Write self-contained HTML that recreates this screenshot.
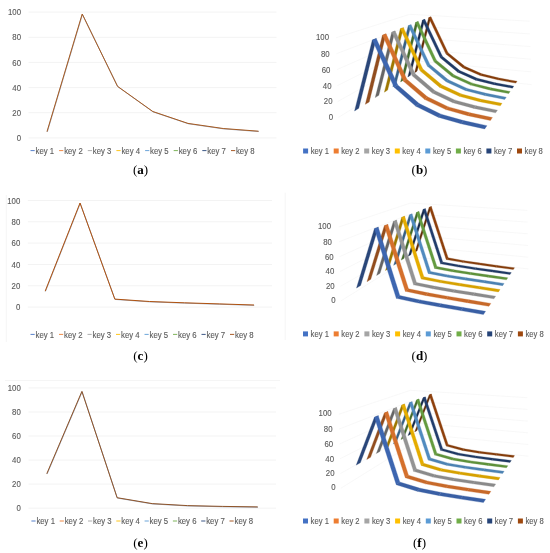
<!DOCTYPE html>
<html><head><meta charset="utf-8"><style>
html,body{margin:0;padding:0;background:#fff;}
svg{display:block;}
</style></head><body>
<svg width="550" height="553" viewBox="0 0 550 553">
<rect width="550" height="553" fill="#fff"/>
<line x1="6.3" y1="195" x2="6.3" y2="342" stroke="#f3f3f3" stroke-width="0.8"/>
<line x1="285.2" y1="192.7" x2="285.2" y2="340" stroke="#f3f3f3" stroke-width="0.8"/>
<line x1="5" y1="380.5" x2="280" y2="380.5" stroke="#f3f3f3" stroke-width="0.8"/>
<line x1="28.5" y1="137.9" x2="276.5" y2="137.9" stroke="#f3f3f3" stroke-width="1"/>
<text transform="translate(21.00,141.00) scale(0.93,1)" font-size="8.4" text-anchor="end" font-family="Liberation Sans, sans-serif" fill="#5a5a5a" stroke="#5a5a5a" stroke-width="0.12">0</text>
<line x1="28.5" y1="112.7" x2="276.5" y2="112.7" stroke="#f3f3f3" stroke-width="1"/>
<text transform="translate(21.00,115.84) scale(0.93,1)" font-size="8.4" text-anchor="end" font-family="Liberation Sans, sans-serif" fill="#5a5a5a" stroke="#5a5a5a" stroke-width="0.12">20</text>
<line x1="28.5" y1="87.6" x2="276.5" y2="87.6" stroke="#f3f3f3" stroke-width="1"/>
<text transform="translate(21.00,90.68) scale(0.93,1)" font-size="8.4" text-anchor="end" font-family="Liberation Sans, sans-serif" fill="#5a5a5a" stroke="#5a5a5a" stroke-width="0.12">40</text>
<line x1="28.5" y1="62.4" x2="276.5" y2="62.4" stroke="#f3f3f3" stroke-width="1"/>
<text transform="translate(21.00,65.52) scale(0.93,1)" font-size="8.4" text-anchor="end" font-family="Liberation Sans, sans-serif" fill="#5a5a5a" stroke="#5a5a5a" stroke-width="0.12">60</text>
<line x1="28.5" y1="37.3" x2="276.5" y2="37.3" stroke="#f3f3f3" stroke-width="1"/>
<text transform="translate(21.00,40.36) scale(0.93,1)" font-size="8.4" text-anchor="end" font-family="Liberation Sans, sans-serif" fill="#5a5a5a" stroke="#5a5a5a" stroke-width="0.12">80</text>
<line x1="28.5" y1="12.1" x2="276.5" y2="12.1" stroke="#f3f3f3" stroke-width="1"/>
<text transform="translate(21.00,15.20) scale(0.93,1)" font-size="8.4" text-anchor="end" font-family="Liberation Sans, sans-serif" fill="#5a5a5a" stroke="#5a5a5a" stroke-width="0.12">100</text>
<polyline points="47.0,131.6 82.2,14.0 117.5,86.3 152.8,111.5 188.0,123.4 223.2,128.5 258.5,131.2" fill="none" stroke="#2d3f66" stroke-width="1" stroke-opacity="0.45" transform="translate(0.25,0.35)" stroke-linejoin="round"/>
<polyline points="47.0,131.6 82.2,14.0 117.5,86.3 152.8,111.5 188.0,123.4 223.2,128.5 258.5,131.2" fill="none" stroke="#a85c22" stroke-width="1.0" stroke-linejoin="round"/>
<line x1="30.5" y1="150.6" x2="34.7" y2="150.6" stroke="#4472C4" stroke-width="0.9"/>
<text transform="translate(35.50,153.70) scale(0.93,1)" font-size="8.4" textLength="20.00" lengthAdjust="spacingAndGlyphs" font-family="Liberation Sans, sans-serif" fill="#5a5a5a" stroke="#5a5a5a" stroke-width="0.12">key 1</text>
<line x1="59.1" y1="150.6" x2="63.3" y2="150.6" stroke="#ED7D31" stroke-width="0.9"/>
<text transform="translate(64.14,153.70) scale(0.93,1)" font-size="8.4" textLength="20.00" lengthAdjust="spacingAndGlyphs" font-family="Liberation Sans, sans-serif" fill="#5a5a5a" stroke="#5a5a5a" stroke-width="0.12">key 2</text>
<line x1="87.8" y1="150.6" x2="92.0" y2="150.6" stroke="#A5A5A5" stroke-width="0.9"/>
<text transform="translate(92.78,153.70) scale(0.93,1)" font-size="8.4" textLength="20.00" lengthAdjust="spacingAndGlyphs" font-family="Liberation Sans, sans-serif" fill="#5a5a5a" stroke="#5a5a5a" stroke-width="0.12">key 3</text>
<line x1="116.4" y1="150.6" x2="120.6" y2="150.6" stroke="#FFC000" stroke-width="0.9"/>
<text transform="translate(121.42,153.70) scale(0.93,1)" font-size="8.4" textLength="20.00" lengthAdjust="spacingAndGlyphs" font-family="Liberation Sans, sans-serif" fill="#5a5a5a" stroke="#5a5a5a" stroke-width="0.12">key 4</text>
<line x1="145.1" y1="150.6" x2="149.3" y2="150.6" stroke="#5B9BD5" stroke-width="0.9"/>
<text transform="translate(150.06,153.70) scale(0.93,1)" font-size="8.4" textLength="20.00" lengthAdjust="spacingAndGlyphs" font-family="Liberation Sans, sans-serif" fill="#5a5a5a" stroke="#5a5a5a" stroke-width="0.12">key 5</text>
<line x1="173.7" y1="150.6" x2="177.9" y2="150.6" stroke="#70AD47" stroke-width="0.9"/>
<text transform="translate(178.70,153.70) scale(0.93,1)" font-size="8.4" textLength="20.00" lengthAdjust="spacingAndGlyphs" font-family="Liberation Sans, sans-serif" fill="#5a5a5a" stroke="#5a5a5a" stroke-width="0.12">key 6</text>
<line x1="202.3" y1="150.6" x2="206.5" y2="150.6" stroke="#264478" stroke-width="0.9"/>
<text transform="translate(207.34,153.70) scale(0.93,1)" font-size="8.4" textLength="20.00" lengthAdjust="spacingAndGlyphs" font-family="Liberation Sans, sans-serif" fill="#5a5a5a" stroke="#5a5a5a" stroke-width="0.12">key 7</text>
<line x1="231.0" y1="150.6" x2="235.2" y2="150.6" stroke="#9E480E" stroke-width="0.9"/>
<text transform="translate(235.98,153.70) scale(0.93,1)" font-size="8.4" textLength="20.00" lengthAdjust="spacingAndGlyphs" font-family="Liberation Sans, sans-serif" fill="#5a5a5a" stroke="#5a5a5a" stroke-width="0.12">key 8</text>
<text x="140.5" y="174.2" text-anchor="middle" font-family="Liberation Serif, serif" font-size="13" fill="#000">(<tspan font-weight="bold">a</tspan>)</text>
<line x1="27.8" y1="307.1" x2="272" y2="307.1" stroke="#f3f3f3" stroke-width="1"/>
<text transform="translate(20.30,310.20) scale(0.93,1)" font-size="8.4" text-anchor="end" font-family="Liberation Sans, sans-serif" fill="#5a5a5a" stroke="#5a5a5a" stroke-width="0.12">0</text>
<line x1="27.8" y1="285.8" x2="272" y2="285.8" stroke="#f3f3f3" stroke-width="1"/>
<text transform="translate(20.30,288.88) scale(0.93,1)" font-size="8.4" text-anchor="end" font-family="Liberation Sans, sans-serif" fill="#5a5a5a" stroke="#5a5a5a" stroke-width="0.12">20</text>
<line x1="27.8" y1="264.5" x2="272" y2="264.5" stroke="#f3f3f3" stroke-width="1"/>
<text transform="translate(20.30,267.56) scale(0.93,1)" font-size="8.4" text-anchor="end" font-family="Liberation Sans, sans-serif" fill="#5a5a5a" stroke="#5a5a5a" stroke-width="0.12">40</text>
<line x1="27.8" y1="243.1" x2="272" y2="243.1" stroke="#f3f3f3" stroke-width="1"/>
<text transform="translate(20.30,246.24) scale(0.93,1)" font-size="8.4" text-anchor="end" font-family="Liberation Sans, sans-serif" fill="#5a5a5a" stroke="#5a5a5a" stroke-width="0.12">60</text>
<line x1="27.8" y1="221.8" x2="272" y2="221.8" stroke="#f3f3f3" stroke-width="1"/>
<text transform="translate(20.30,224.92) scale(0.93,1)" font-size="8.4" text-anchor="end" font-family="Liberation Sans, sans-serif" fill="#5a5a5a" stroke="#5a5a5a" stroke-width="0.12">80</text>
<line x1="27.8" y1="200.5" x2="272" y2="200.5" stroke="#f3f3f3" stroke-width="1"/>
<text transform="translate(20.30,203.60) scale(0.93,1)" font-size="8.4" text-anchor="end" font-family="Liberation Sans, sans-serif" fill="#5a5a5a" stroke="#5a5a5a" stroke-width="0.12">100</text>
<polyline points="45.2,291.1 80.0,203.0 114.8,299.1 149.6,301.5 184.4,302.8 219.2,303.9 254.0,305.0" fill="none" stroke="#2d3f66" stroke-width="1" stroke-opacity="0.45" transform="translate(0.25,0.35)" stroke-linejoin="round"/>
<polyline points="45.2,291.1 80.0,203.0 114.8,299.1 149.6,301.5 184.4,302.8 219.2,303.9 254.0,305.0" fill="none" stroke="#b0520f" stroke-width="1.0" stroke-linejoin="round"/>
<line x1="30.5" y1="334.4" x2="34.7" y2="334.4" stroke="#4472C4" stroke-width="0.9"/>
<text transform="translate(35.50,337.50) scale(0.93,1)" font-size="8.4" textLength="20.00" lengthAdjust="spacingAndGlyphs" font-family="Liberation Sans, sans-serif" fill="#5a5a5a" stroke="#5a5a5a" stroke-width="0.12">key 1</text>
<line x1="59.0" y1="334.4" x2="63.2" y2="334.4" stroke="#ED7D31" stroke-width="0.9"/>
<text transform="translate(64.00,337.50) scale(0.93,1)" font-size="8.4" textLength="20.00" lengthAdjust="spacingAndGlyphs" font-family="Liberation Sans, sans-serif" fill="#5a5a5a" stroke="#5a5a5a" stroke-width="0.12">key 2</text>
<line x1="87.5" y1="334.4" x2="91.7" y2="334.4" stroke="#A5A5A5" stroke-width="0.9"/>
<text transform="translate(92.50,337.50) scale(0.93,1)" font-size="8.4" textLength="20.00" lengthAdjust="spacingAndGlyphs" font-family="Liberation Sans, sans-serif" fill="#5a5a5a" stroke="#5a5a5a" stroke-width="0.12">key 3</text>
<line x1="116.0" y1="334.4" x2="120.2" y2="334.4" stroke="#FFC000" stroke-width="0.9"/>
<text transform="translate(121.00,337.50) scale(0.93,1)" font-size="8.4" textLength="20.00" lengthAdjust="spacingAndGlyphs" font-family="Liberation Sans, sans-serif" fill="#5a5a5a" stroke="#5a5a5a" stroke-width="0.12">key 4</text>
<line x1="144.5" y1="334.4" x2="148.7" y2="334.4" stroke="#5B9BD5" stroke-width="0.9"/>
<text transform="translate(149.50,337.50) scale(0.93,1)" font-size="8.4" textLength="20.00" lengthAdjust="spacingAndGlyphs" font-family="Liberation Sans, sans-serif" fill="#5a5a5a" stroke="#5a5a5a" stroke-width="0.12">key 5</text>
<line x1="173.0" y1="334.4" x2="177.2" y2="334.4" stroke="#70AD47" stroke-width="0.9"/>
<text transform="translate(178.00,337.50) scale(0.93,1)" font-size="8.4" textLength="20.00" lengthAdjust="spacingAndGlyphs" font-family="Liberation Sans, sans-serif" fill="#5a5a5a" stroke="#5a5a5a" stroke-width="0.12">key 6</text>
<line x1="201.5" y1="334.4" x2="205.7" y2="334.4" stroke="#264478" stroke-width="0.9"/>
<text transform="translate(206.50,337.50) scale(0.93,1)" font-size="8.4" textLength="20.00" lengthAdjust="spacingAndGlyphs" font-family="Liberation Sans, sans-serif" fill="#5a5a5a" stroke="#5a5a5a" stroke-width="0.12">key 7</text>
<line x1="230.0" y1="334.4" x2="234.2" y2="334.4" stroke="#9E480E" stroke-width="0.9"/>
<text transform="translate(235.00,337.50) scale(0.93,1)" font-size="8.4" textLength="20.00" lengthAdjust="spacingAndGlyphs" font-family="Liberation Sans, sans-serif" fill="#5a5a5a" stroke="#5a5a5a" stroke-width="0.12">key 8</text>
<text x="140.5" y="360.2" text-anchor="middle" font-family="Liberation Serif, serif" font-size="13" fill="#000">(<tspan font-weight="bold">c</tspan>)</text>
<line x1="28.5" y1="508.2" x2="276" y2="508.2" stroke="#f3f3f3" stroke-width="1"/>
<text transform="translate(20.80,511.30) scale(0.93,1)" font-size="8.4" text-anchor="end" font-family="Liberation Sans, sans-serif" fill="#5a5a5a" stroke="#5a5a5a" stroke-width="0.12">0</text>
<line x1="28.5" y1="484.1" x2="276" y2="484.1" stroke="#f3f3f3" stroke-width="1"/>
<text transform="translate(20.80,487.24) scale(0.93,1)" font-size="8.4" text-anchor="end" font-family="Liberation Sans, sans-serif" fill="#5a5a5a" stroke="#5a5a5a" stroke-width="0.12">20</text>
<line x1="28.5" y1="460.1" x2="276" y2="460.1" stroke="#f3f3f3" stroke-width="1"/>
<text transform="translate(20.80,463.18) scale(0.93,1)" font-size="8.4" text-anchor="end" font-family="Liberation Sans, sans-serif" fill="#5a5a5a" stroke="#5a5a5a" stroke-width="0.12">40</text>
<line x1="28.5" y1="436.0" x2="276" y2="436.0" stroke="#f3f3f3" stroke-width="1"/>
<text transform="translate(20.80,439.12) scale(0.93,1)" font-size="8.4" text-anchor="end" font-family="Liberation Sans, sans-serif" fill="#5a5a5a" stroke="#5a5a5a" stroke-width="0.12">60</text>
<line x1="28.5" y1="412.0" x2="276" y2="412.0" stroke="#f3f3f3" stroke-width="1"/>
<text transform="translate(20.80,415.06) scale(0.93,1)" font-size="8.4" text-anchor="end" font-family="Liberation Sans, sans-serif" fill="#5a5a5a" stroke="#5a5a5a" stroke-width="0.12">80</text>
<line x1="28.5" y1="387.9" x2="276" y2="387.9" stroke="#f3f3f3" stroke-width="1"/>
<text transform="translate(20.80,391.00) scale(0.93,1)" font-size="8.4" text-anchor="end" font-family="Liberation Sans, sans-serif" fill="#5a5a5a" stroke="#5a5a5a" stroke-width="0.12">100</text>
<polyline points="46.8,473.7 81.9,391.4 117.1,497.7 152.2,503.6 187.4,505.6 222.6,506.4 257.7,506.9" fill="none" stroke="#2d3f66" stroke-width="1" stroke-opacity="0.45" transform="translate(0.25,0.35)" stroke-linejoin="round"/>
<polyline points="46.8,473.7 81.9,391.4 117.1,497.7 152.2,503.6 187.4,505.6 222.6,506.4 257.7,506.9" fill="none" stroke="#8f5428" stroke-width="1.0" stroke-linejoin="round"/>
<line x1="31.4" y1="521.0" x2="35.6" y2="521.0" stroke="#4472C4" stroke-width="0.9"/>
<text transform="translate(36.40,524.10) scale(0.93,1)" font-size="8.4" textLength="20.00" lengthAdjust="spacingAndGlyphs" font-family="Liberation Sans, sans-serif" fill="#5a5a5a" stroke="#5a5a5a" stroke-width="0.12">key 1</text>
<line x1="59.7" y1="521.0" x2="63.9" y2="521.0" stroke="#ED7D31" stroke-width="0.9"/>
<text transform="translate(64.70,524.10) scale(0.93,1)" font-size="8.4" textLength="20.00" lengthAdjust="spacingAndGlyphs" font-family="Liberation Sans, sans-serif" fill="#5a5a5a" stroke="#5a5a5a" stroke-width="0.12">key 2</text>
<line x1="88.0" y1="521.0" x2="92.2" y2="521.0" stroke="#A5A5A5" stroke-width="0.9"/>
<text transform="translate(93.00,524.10) scale(0.93,1)" font-size="8.4" textLength="20.00" lengthAdjust="spacingAndGlyphs" font-family="Liberation Sans, sans-serif" fill="#5a5a5a" stroke="#5a5a5a" stroke-width="0.12">key 3</text>
<line x1="116.3" y1="521.0" x2="120.5" y2="521.0" stroke="#FFC000" stroke-width="0.9"/>
<text transform="translate(121.30,524.10) scale(0.93,1)" font-size="8.4" textLength="20.00" lengthAdjust="spacingAndGlyphs" font-family="Liberation Sans, sans-serif" fill="#5a5a5a" stroke="#5a5a5a" stroke-width="0.12">key 4</text>
<line x1="144.6" y1="521.0" x2="148.8" y2="521.0" stroke="#5B9BD5" stroke-width="0.9"/>
<text transform="translate(149.60,524.10) scale(0.93,1)" font-size="8.4" textLength="20.00" lengthAdjust="spacingAndGlyphs" font-family="Liberation Sans, sans-serif" fill="#5a5a5a" stroke="#5a5a5a" stroke-width="0.12">key 5</text>
<line x1="172.9" y1="521.0" x2="177.1" y2="521.0" stroke="#70AD47" stroke-width="0.9"/>
<text transform="translate(177.90,524.10) scale(0.93,1)" font-size="8.4" textLength="20.00" lengthAdjust="spacingAndGlyphs" font-family="Liberation Sans, sans-serif" fill="#5a5a5a" stroke="#5a5a5a" stroke-width="0.12">key 6</text>
<line x1="201.2" y1="521.0" x2="205.4" y2="521.0" stroke="#264478" stroke-width="0.9"/>
<text transform="translate(206.20,524.10) scale(0.93,1)" font-size="8.4" textLength="20.00" lengthAdjust="spacingAndGlyphs" font-family="Liberation Sans, sans-serif" fill="#5a5a5a" stroke="#5a5a5a" stroke-width="0.12">key 7</text>
<line x1="229.5" y1="521.0" x2="233.7" y2="521.0" stroke="#9E480E" stroke-width="0.9"/>
<text transform="translate(234.50,524.10) scale(0.93,1)" font-size="8.4" textLength="20.00" lengthAdjust="spacingAndGlyphs" font-family="Liberation Sans, sans-serif" fill="#5a5a5a" stroke="#5a5a5a" stroke-width="0.12">key 8</text>
<text x="140.5" y="547" text-anchor="middle" font-family="Liberation Serif, serif" font-size="13" fill="#000">(<tspan font-weight="bold">e</tspan>)</text>
<polyline points="338.3,117.5 411.5,72.1 531.6,84.6" fill="none" stroke="#f6f6f6" stroke-width="0.8"/>
<polyline points="337.8,101.5 411.1,60.5 531.2,71.9" fill="none" stroke="#f6f6f6" stroke-width="0.8"/>
<polyline points="337.4,85.6 410.8,48.9 530.8,59.2" fill="none" stroke="#f6f6f6" stroke-width="0.8"/>
<polyline points="336.9,69.6 410.4,37.4 530.4,46.6" fill="none" stroke="#f6f6f6" stroke-width="0.8"/>
<polyline points="336.4,53.7 410.1,25.8 530.0,33.9" fill="none" stroke="#f6f6f6" stroke-width="0.8"/>
<polyline points="336.0,37.8 409.7,14.3 529.6,21.2" fill="none" stroke="#f6f6f6" stroke-width="0.8"/>
<text transform="translate(329.00,40.30) scale(0.93,1)" font-size="8.4" text-anchor="end" font-family="Liberation Sans, sans-serif" fill="#5a5a5a" stroke="#5a5a5a" stroke-width="0.12">100</text>
<text transform="translate(329.60,56.80) scale(0.93,1)" font-size="8.4" text-anchor="end" font-family="Liberation Sans, sans-serif" fill="#5a5a5a" stroke="#5a5a5a" stroke-width="0.12">80</text>
<text transform="translate(330.40,73.00) scale(0.93,1)" font-size="8.4" text-anchor="end" font-family="Liberation Sans, sans-serif" fill="#5a5a5a" stroke="#5a5a5a" stroke-width="0.12">60</text>
<text transform="translate(331.50,88.80) scale(0.93,1)" font-size="8.4" text-anchor="end" font-family="Liberation Sans, sans-serif" fill="#5a5a5a" stroke="#5a5a5a" stroke-width="0.12">40</text>
<text transform="translate(332.50,104.00) scale(0.93,1)" font-size="8.4" text-anchor="end" font-family="Liberation Sans, sans-serif" fill="#5a5a5a" stroke="#5a5a5a" stroke-width="0.12">20</text>
<text transform="translate(333.20,119.60) scale(0.93,1)" font-size="8.4" text-anchor="end" font-family="Liberation Sans, sans-serif" fill="#5a5a5a" stroke="#5a5a5a" stroke-width="0.12">0</text>
<polygon points="414.60,72.73 428.69,17.72 430.98,16.87 417.04,71.17" fill="#612c08" stroke="#612c08" stroke-width="0.3" stroke-linejoin="round"/>
<polygon points="428.69,17.72 445.96,54.08 448.05,52.73 430.98,16.87" fill="#8e400c" stroke="#8e400c" stroke-width="0.3" stroke-linejoin="round"/>
<polygon points="445.96,54.08 462.96,67.90 464.86,66.36 448.05,52.73" fill="#843c0b" stroke="#843c0b" stroke-width="0.3" stroke-linejoin="round"/>
<polygon points="462.96,67.90 480.21,75.51 481.89,73.84 464.86,66.36" fill="#843c0b" stroke="#843c0b" stroke-width="0.3" stroke-linejoin="round"/>
<polygon points="480.21,75.51 497.80,79.82 499.27,78.07 481.89,73.84" fill="#843c0b" stroke="#843c0b" stroke-width="0.3" stroke-linejoin="round"/>
<polygon points="497.80,79.82 515.83,83.09 517.06,81.27 499.27,78.07" fill="#843c0b" stroke="#843c0b" stroke-width="0.3" stroke-linejoin="round"/>
<polygon points="407.84,77.01 422.37,20.27 424.82,19.35 410.47,75.35" fill="#172a4a" stroke="#172a4a" stroke-width="0.3" stroke-linejoin="round"/>
<polygon points="422.37,20.27 440.17,57.79 442.42,56.35 424.82,19.35" fill="#223d6c" stroke="#223d6c" stroke-width="0.3" stroke-linejoin="round"/>
<polygon points="440.17,57.79 457.72,72.18 459.76,70.52 442.42,56.35" fill="#1f3964" stroke="#1f3964" stroke-width="0.3" stroke-linejoin="round"/>
<polygon points="457.72,72.18 475.54,80.13 477.36,78.33 459.76,70.52" fill="#1f3964" stroke="#1f3964" stroke-width="0.3" stroke-linejoin="round"/>
<polygon points="475.54,80.13 493.74,84.67 495.32,82.78 477.36,78.33" fill="#1f3964" stroke="#1f3964" stroke-width="0.3" stroke-linejoin="round"/>
<polygon points="493.74,84.67 512.40,88.13 513.73,86.17 495.32,82.78" fill="#1f3964" stroke="#1f3964" stroke-width="0.3" stroke-linejoin="round"/>
<polygon points="400.60,81.93 415.56,22.49 418.20,21.51 403.42,80.14" fill="#456b2c" stroke="#456b2c" stroke-width="0.3" stroke-linejoin="round"/>
<polygon points="415.56,22.49 433.95,61.79 436.37,60.24 418.20,21.51" fill="#649b3f" stroke="#649b3f" stroke-width="0.3" stroke-linejoin="round"/>
<polygon points="433.95,61.79 452.09,76.78 454.28,74.99 436.37,60.24" fill="#5e913b" stroke="#5e913b" stroke-width="0.3" stroke-linejoin="round"/>
<polygon points="452.09,76.78 470.52,85.10 472.47,83.17 454.28,74.99" fill="#5e913b" stroke="#5e913b" stroke-width="0.3" stroke-linejoin="round"/>
<polygon points="470.52,85.10 489.36,89.89 491.06,87.86 472.47,83.17" fill="#5e913b" stroke="#5e913b" stroke-width="0.3" stroke-linejoin="round"/>
<polygon points="489.36,89.89 508.70,93.57 510.14,91.45 491.06,87.86" fill="#5e913b" stroke="#5e913b" stroke-width="0.3" stroke-linejoin="round"/>
<polygon points="392.80,86.89 408.25,25.76 411.10,24.69 395.83,84.96" fill="#386084" stroke="#386084" stroke-width="0.3" stroke-linejoin="round"/>
<polygon points="408.25,25.76 427.24,66.10 429.85,64.43 411.10,24.69" fill="#518bbf" stroke="#518bbf" stroke-width="0.3" stroke-linejoin="round"/>
<polygon points="427.24,66.10 446.00,81.75 448.37,79.82 429.85,64.43" fill="#4c82b2" stroke="#4c82b2" stroke-width="0.3" stroke-linejoin="round"/>
<polygon points="446.00,81.75 465.09,90.48 467.20,88.39 448.37,79.82" fill="#4c82b2" stroke="#4c82b2" stroke-width="0.3" stroke-linejoin="round"/>
<polygon points="465.09,90.48 484.62,95.55 486.46,93.35 467.20,88.39" fill="#4c82b2" stroke="#4c82b2" stroke-width="0.3" stroke-linejoin="round"/>
<polygon points="484.62,95.55 504.69,99.47 506.26,97.17 486.46,93.35" fill="#4c82b2" stroke="#4c82b2" stroke-width="0.3" stroke-linejoin="round"/>
<polygon points="384.37,92.18 400.34,28.79 403.42,27.64 387.65,90.10" fill="#9e7700" stroke="#9e7700" stroke-width="0.3" stroke-linejoin="round"/>
<polygon points="400.34,28.79 419.98,70.77 422.80,68.95 403.42,27.64" fill="#e5ac00" stroke="#e5ac00" stroke-width="0.3" stroke-linejoin="round"/>
<polygon points="419.98,70.77 439.40,87.14 441.97,85.04 422.80,68.95" fill="#d6a100" stroke="#d6a100" stroke-width="0.3" stroke-linejoin="round"/>
<polygon points="439.40,87.14 459.20,96.32 461.49,94.04 441.97,85.04" fill="#d6a100" stroke="#d6a100" stroke-width="0.3" stroke-linejoin="round"/>
<polygon points="459.20,96.32 479.47,101.69 481.48,99.30 461.49,94.04" fill="#d6a100" stroke="#d6a100" stroke-width="0.3" stroke-linejoin="round"/>
<polygon points="479.47,101.69 500.34,105.87 502.04,103.37 481.48,99.30" fill="#d6a100" stroke="#d6a100" stroke-width="0.3" stroke-linejoin="round"/>
<polygon points="375.24,97.62 391.77,32.16 395.11,30.90 378.80,95.37" fill="#666666" stroke="#666666" stroke-width="0.3" stroke-linejoin="round"/>
<polygon points="391.77,32.16 412.10,75.83 415.17,73.85 395.11,30.90" fill="#949494" stroke="#949494" stroke-width="0.3" stroke-linejoin="round"/>
<polygon points="412.10,75.83 432.24,92.98 435.04,90.70 415.17,73.85" fill="#8a8a8a" stroke="#8a8a8a" stroke-width="0.3" stroke-linejoin="round"/>
<polygon points="432.24,92.98 452.79,102.66 455.29,100.19 435.04,90.70" fill="#8a8a8a" stroke="#8a8a8a" stroke-width="0.3" stroke-linejoin="round"/>
<polygon points="452.79,102.66 473.87,108.38 476.05,105.77 455.29,100.19" fill="#8a8a8a" stroke="#8a8a8a" stroke-width="0.3" stroke-linejoin="round"/>
<polygon points="473.87,108.38 495.59,112.86 497.44,110.13 476.05,105.77" fill="#8a8a8a" stroke="#8a8a8a" stroke-width="0.3" stroke-linejoin="round"/>
<polygon points="365.35,104.35 382.43,35.21 386.07,33.85 369.21,101.90" fill="#924d1e" stroke="#924d1e" stroke-width="0.3" stroke-linejoin="round"/>
<polygon points="382.43,35.21 403.52,81.34 406.87,79.19 386.07,33.85" fill="#d5702c" stroke="#d5702c" stroke-width="0.3" stroke-linejoin="round"/>
<polygon points="403.52,81.34 424.43,99.36 427.48,96.87 406.87,79.19" fill="#c76929" stroke="#c76929" stroke-width="0.3" stroke-linejoin="round"/>
<polygon points="424.43,99.36 445.79,109.59 448.52,106.89 427.48,96.87" fill="#c76929" stroke="#c76929" stroke-width="0.3" stroke-linejoin="round"/>
<polygon points="445.79,109.59 467.74,115.69 470.13,112.83 448.52,106.89" fill="#c76929" stroke="#c76929" stroke-width="0.3" stroke-linejoin="round"/>
<polygon points="467.74,115.69 490.39,120.51 492.42,117.52 470.13,112.83" fill="#c76929" stroke="#c76929" stroke-width="0.3" stroke-linejoin="round"/>
<polygon points="354.54,110.99 372.29,40.05 376.26,38.55 358.76,108.31" fill="#2a4679" stroke="#2a4679" stroke-width="0.3" stroke-linejoin="round"/>
<polygon points="372.29,40.05 394.14,87.36 397.81,85.01 376.26,38.55" fill="#3d66b0" stroke="#3d66b0" stroke-width="0.3" stroke-linejoin="round"/>
<polygon points="394.14,87.36 415.88,106.34 419.22,103.61 397.81,85.01" fill="#395fa4" stroke="#395fa4" stroke-width="0.3" stroke-linejoin="round"/>
<polygon points="415.88,106.34 438.12,117.19 441.12,114.22 419.22,103.61" fill="#395fa4" stroke="#395fa4" stroke-width="0.3" stroke-linejoin="round"/>
<polygon points="438.12,117.19 461.01,123.72 463.64,120.58 441.12,114.22" fill="#395fa4" stroke="#395fa4" stroke-width="0.3" stroke-linejoin="round"/>
<polygon points="461.01,123.72 484.67,128.93 486.91,125.63 463.64,120.58" fill="#395fa4" stroke="#395fa4" stroke-width="0.3" stroke-linejoin="round"/>
<rect x="303.1" y="148.5" width="5" height="5" fill="#4472C4"/>
<text transform="translate(310.70,154.10) scale(0.93,1)" font-size="8.4" textLength="19.68" lengthAdjust="spacingAndGlyphs" font-family="Liberation Sans, sans-serif" fill="#5a5a5a" stroke="#5a5a5a" stroke-width="0.12">key 1</text>
<rect x="333.7" y="148.5" width="5" height="5" fill="#ED7D31"/>
<text transform="translate(341.25,154.10) scale(0.93,1)" font-size="8.4" textLength="19.68" lengthAdjust="spacingAndGlyphs" font-family="Liberation Sans, sans-serif" fill="#5a5a5a" stroke="#5a5a5a" stroke-width="0.12">key 2</text>
<rect x="364.2" y="148.5" width="5" height="5" fill="#A5A5A5"/>
<text transform="translate(371.80,154.10) scale(0.93,1)" font-size="8.4" textLength="19.68" lengthAdjust="spacingAndGlyphs" font-family="Liberation Sans, sans-serif" fill="#5a5a5a" stroke="#5a5a5a" stroke-width="0.12">key 3</text>
<rect x="394.8" y="148.5" width="5" height="5" fill="#FFC000"/>
<text transform="translate(402.35,154.10) scale(0.93,1)" font-size="8.4" textLength="19.68" lengthAdjust="spacingAndGlyphs" font-family="Liberation Sans, sans-serif" fill="#5a5a5a" stroke="#5a5a5a" stroke-width="0.12">key 4</text>
<rect x="425.3" y="148.5" width="5" height="5" fill="#5B9BD5"/>
<text transform="translate(432.90,154.10) scale(0.93,1)" font-size="8.4" textLength="19.68" lengthAdjust="spacingAndGlyphs" font-family="Liberation Sans, sans-serif" fill="#5a5a5a" stroke="#5a5a5a" stroke-width="0.12">key 5</text>
<rect x="455.9" y="148.5" width="5" height="5" fill="#70AD47"/>
<text transform="translate(463.45,154.10) scale(0.93,1)" font-size="8.4" textLength="19.68" lengthAdjust="spacingAndGlyphs" font-family="Liberation Sans, sans-serif" fill="#5a5a5a" stroke="#5a5a5a" stroke-width="0.12">key 6</text>
<rect x="486.4" y="148.5" width="5" height="5" fill="#264478"/>
<text transform="translate(494.00,154.10) scale(0.93,1)" font-size="8.4" textLength="19.68" lengthAdjust="spacingAndGlyphs" font-family="Liberation Sans, sans-serif" fill="#5a5a5a" stroke="#5a5a5a" stroke-width="0.12">key 7</text>
<rect x="517.0" y="148.5" width="5" height="5" fill="#9E480E"/>
<text transform="translate(524.55,154.10) scale(0.93,1)" font-size="8.4" textLength="19.68" lengthAdjust="spacingAndGlyphs" font-family="Liberation Sans, sans-serif" fill="#5a5a5a" stroke="#5a5a5a" stroke-width="0.12">key 8</text>
<text x="419.5" y="174.3" text-anchor="middle" font-family="Liberation Serif, serif" font-size="13" fill="#000">(<tspan font-weight="bold">b</tspan>)</text>
<polyline points="340.8,301.0 411.8,256.8 528.4,268.9" fill="none" stroke="#f6f6f6" stroke-width="0.8"/>
<polyline points="340.4,286.3 411.6,246.0 528.2,257.2" fill="none" stroke="#f6f6f6" stroke-width="0.8"/>
<polyline points="340.0,271.5 411.3,235.3 528.0,245.5" fill="none" stroke="#f6f6f6" stroke-width="0.8"/>
<polyline points="339.5,256.7 411.0,224.5 527.8,233.8" fill="none" stroke="#f6f6f6" stroke-width="0.8"/>
<polyline points="339.1,241.8 410.8,213.8 527.5,222.1" fill="none" stroke="#f6f6f6" stroke-width="0.8"/>
<polyline points="338.7,227.0 410.5,203.0 527.3,210.4" fill="none" stroke="#f6f6f6" stroke-width="0.8"/>
<text transform="translate(331.00,229.10) scale(0.93,1)" font-size="8.4" text-anchor="end" font-family="Liberation Sans, sans-serif" fill="#5a5a5a" stroke="#5a5a5a" stroke-width="0.12">100</text>
<text transform="translate(331.90,244.80) scale(0.93,1)" font-size="8.4" text-anchor="end" font-family="Liberation Sans, sans-serif" fill="#5a5a5a" stroke="#5a5a5a" stroke-width="0.12">80</text>
<text transform="translate(333.60,259.70) scale(0.93,1)" font-size="8.4" text-anchor="end" font-family="Liberation Sans, sans-serif" fill="#5a5a5a" stroke="#5a5a5a" stroke-width="0.12">60</text>
<text transform="translate(334.30,274.20) scale(0.93,1)" font-size="8.4" text-anchor="end" font-family="Liberation Sans, sans-serif" fill="#5a5a5a" stroke="#5a5a5a" stroke-width="0.12">40</text>
<text transform="translate(334.70,289.10) scale(0.93,1)" font-size="8.4" text-anchor="end" font-family="Liberation Sans, sans-serif" fill="#5a5a5a" stroke="#5a5a5a" stroke-width="0.12">20</text>
<text transform="translate(335.50,302.90) scale(0.93,1)" font-size="8.4" text-anchor="end" font-family="Liberation Sans, sans-serif" fill="#5a5a5a" stroke="#5a5a5a" stroke-width="0.12">0</text>
<polygon points="414.80,252.31 429.14,207.43 431.36,206.55 417.18,250.87" fill="#612c08" stroke="#612c08" stroke-width="0.3" stroke-linejoin="round"/>
<polygon points="429.14,207.43 446.14,259.40 448.16,257.83 431.36,206.55" fill="#8e400c" stroke="#8e400c" stroke-width="0.3" stroke-linejoin="round"/>
<polygon points="446.14,259.40 462.35,262.33 464.17,260.70 448.16,257.83" fill="#843c0b" stroke="#843c0b" stroke-width="0.3" stroke-linejoin="round"/>
<polygon points="462.35,262.33 478.92,264.80 480.55,263.12 464.17,260.70" fill="#843c0b" stroke="#843c0b" stroke-width="0.3" stroke-linejoin="round"/>
<polygon points="478.92,264.80 495.90,267.16 497.31,265.42 480.55,263.12" fill="#843c0b" stroke="#843c0b" stroke-width="0.3" stroke-linejoin="round"/>
<polygon points="495.90,267.16 513.28,269.57 514.47,267.78 497.31,265.42" fill="#843c0b" stroke="#843c0b" stroke-width="0.3" stroke-linejoin="round"/>
<polygon points="408.25,256.31 423.01,209.57 425.39,208.63 410.80,254.76" fill="#172a4a" stroke="#172a4a" stroke-width="0.3" stroke-linejoin="round"/>
<polygon points="423.01,209.57 440.57,263.75 442.74,262.06 425.39,208.63" fill="#223d6c" stroke="#223d6c" stroke-width="0.3" stroke-linejoin="round"/>
<polygon points="440.57,263.75 457.30,266.83 459.26,265.08 442.74,262.06" fill="#1f3964" stroke="#1f3964" stroke-width="0.3" stroke-linejoin="round"/>
<polygon points="457.30,266.83 474.44,269.45 476.18,267.64 459.26,265.08" fill="#1f3964" stroke="#1f3964" stroke-width="0.3" stroke-linejoin="round"/>
<polygon points="474.44,269.45 491.99,271.96 493.51,270.09 476.18,267.64" fill="#1f3964" stroke="#1f3964" stroke-width="0.3" stroke-linejoin="round"/>
<polygon points="491.99,271.96 510.00,274.53 511.28,272.60 493.51,270.09" fill="#1f3964" stroke="#1f3964" stroke-width="0.3" stroke-linejoin="round"/>
<polygon points="401.20,260.12 416.43,212.53 418.99,211.52 403.94,258.46" fill="#456b2c" stroke="#456b2c" stroke-width="0.3" stroke-linejoin="round"/>
<polygon points="416.43,212.53 434.58,268.42 436.91,266.60 418.99,211.52" fill="#649b3f" stroke="#649b3f" stroke-width="0.3" stroke-linejoin="round"/>
<polygon points="434.58,268.42 451.88,271.68 453.99,269.80 436.91,266.60" fill="#5e913b" stroke="#5e913b" stroke-width="0.3" stroke-linejoin="round"/>
<polygon points="451.88,271.68 469.60,274.47 471.48,272.52 453.99,269.80" fill="#5e913b" stroke="#5e913b" stroke-width="0.3" stroke-linejoin="round"/>
<polygon points="469.60,274.47 487.79,277.14 489.42,275.12 471.48,272.52" fill="#5e913b" stroke="#5e913b" stroke-width="0.3" stroke-linejoin="round"/>
<polygon points="487.79,277.14 506.45,279.87 507.83,277.79 489.42,275.12" fill="#5e913b" stroke="#5e913b" stroke-width="0.3" stroke-linejoin="round"/>
<polygon points="393.64,265.33 409.32,214.98 412.08,213.89 396.59,263.53" fill="#386084" stroke="#386084" stroke-width="0.3" stroke-linejoin="round"/>
<polygon points="409.32,214.98 428.12,273.46 430.63,271.50 412.08,213.89" fill="#518bbf" stroke="#518bbf" stroke-width="0.3" stroke-linejoin="round"/>
<polygon points="428.12,273.46 446.02,276.92 448.30,274.88 430.63,271.50" fill="#4c82b2" stroke="#4c82b2" stroke-width="0.3" stroke-linejoin="round"/>
<polygon points="446.02,276.92 464.38,279.89 466.41,277.78 448.30,274.88" fill="#4c82b2" stroke="#4c82b2" stroke-width="0.3" stroke-linejoin="round"/>
<polygon points="464.38,279.89 483.23,282.74 485.01,280.55 466.41,277.78" fill="#4c82b2" stroke="#4c82b2" stroke-width="0.3" stroke-linejoin="round"/>
<polygon points="483.23,282.74 502.61,285.66 504.10,283.41 485.01,280.55" fill="#4c82b2" stroke="#4c82b2" stroke-width="0.3" stroke-linejoin="round"/>
<polygon points="385.47,270.57 401.63,217.42 404.62,216.25 388.66,268.63" fill="#9e7700" stroke="#9e7700" stroke-width="0.3" stroke-linejoin="round"/>
<polygon points="401.63,217.42 421.13,278.91 423.85,276.79 404.62,216.25" fill="#e5ac00" stroke="#e5ac00" stroke-width="0.3" stroke-linejoin="round"/>
<polygon points="421.13,278.91 439.67,282.59 442.14,280.38 423.85,276.79" fill="#d6a100" stroke="#d6a100" stroke-width="0.3" stroke-linejoin="round"/>
<polygon points="439.67,282.59 458.72,285.76 460.92,283.47 442.14,280.38" fill="#d6a100" stroke="#d6a100" stroke-width="0.3" stroke-linejoin="round"/>
<polygon points="458.72,285.76 478.29,288.81 480.22,286.44 460.92,283.47" fill="#d6a100" stroke="#d6a100" stroke-width="0.3" stroke-linejoin="round"/>
<polygon points="478.29,288.81 498.43,291.95 500.06,289.50 480.22,286.44" fill="#d6a100" stroke="#d6a100" stroke-width="0.3" stroke-linejoin="round"/>
<polygon points="376.61,275.45 393.33,221.43 396.57,220.15 380.06,273.35" fill="#666666" stroke="#666666" stroke-width="0.3" stroke-linejoin="round"/>
<polygon points="393.33,221.43 413.55,284.83 416.50,282.52 396.57,220.15" fill="#949494" stroke="#949494" stroke-width="0.3" stroke-linejoin="round"/>
<polygon points="413.55,284.83 432.78,288.75 435.47,286.34 416.50,282.52" fill="#8a8a8a" stroke="#8a8a8a" stroke-width="0.3" stroke-linejoin="round"/>
<polygon points="432.78,288.75 452.56,292.15 454.96,289.65 435.47,286.34" fill="#8a8a8a" stroke="#8a8a8a" stroke-width="0.3" stroke-linejoin="round"/>
<polygon points="452.56,292.15 472.92,295.43 475.01,292.85 454.96,289.65" fill="#8a8a8a" stroke="#8a8a8a" stroke-width="0.3" stroke-linejoin="round"/>
<polygon points="472.92,295.43 493.88,298.81 495.66,296.14 475.01,292.85" fill="#8a8a8a" stroke="#8a8a8a" stroke-width="0.3" stroke-linejoin="round"/>
<polygon points="367.00,281.65 384.30,225.79 387.83,224.38 370.75,279.36" fill="#924d1e" stroke="#924d1e" stroke-width="0.3" stroke-linejoin="round"/>
<polygon points="384.30,225.79 405.29,291.27 408.51,288.75 387.83,224.38" fill="#d5702c" stroke="#d5702c" stroke-width="0.3" stroke-linejoin="round"/>
<polygon points="405.29,291.27 425.27,295.46 428.20,292.84 408.51,288.75" fill="#c76929" stroke="#c76929" stroke-width="0.3" stroke-linejoin="round"/>
<polygon points="425.27,295.46 445.84,299.12 448.46,296.39 428.20,292.84" fill="#c76929" stroke="#c76929" stroke-width="0.3" stroke-linejoin="round"/>
<polygon points="445.84,299.12 467.04,302.66 469.33,299.84 448.46,296.39" fill="#c76929" stroke="#c76929" stroke-width="0.3" stroke-linejoin="round"/>
<polygon points="467.04,302.66 488.90,306.32 490.85,303.38 469.33,299.84" fill="#c76929" stroke="#c76929" stroke-width="0.3" stroke-linejoin="round"/>
<polygon points="356.51,288.04 374.40,228.70 378.26,227.17 360.61,285.55" fill="#2a4679" stroke="#2a4679" stroke-width="0.3" stroke-linejoin="round"/>
<polygon points="374.40,228.70 396.26,298.31 399.79,295.56 378.26,227.17" fill="#3d66b0" stroke="#3d66b0" stroke-width="0.3" stroke-linejoin="round"/>
<polygon points="396.26,298.31 417.04,302.81 420.26,299.94 399.79,295.56" fill="#395fa4" stroke="#395fa4" stroke-width="0.3" stroke-linejoin="round"/>
<polygon points="417.04,302.81 438.47,306.76 441.35,303.77 420.26,299.94" fill="#395fa4" stroke="#395fa4" stroke-width="0.3" stroke-linejoin="round"/>
<polygon points="438.47,306.76 460.58,310.60 463.11,307.49 441.35,303.77" fill="#395fa4" stroke="#395fa4" stroke-width="0.3" stroke-linejoin="round"/>
<polygon points="460.58,310.60 483.43,314.57 485.57,311.34 463.11,307.49" fill="#395fa4" stroke="#395fa4" stroke-width="0.3" stroke-linejoin="round"/>
<rect x="303.0" y="331.4" width="5" height="5" fill="#4472C4"/>
<text transform="translate(310.60,337.00) scale(0.93,1)" font-size="8.4" textLength="19.68" lengthAdjust="spacingAndGlyphs" font-family="Liberation Sans, sans-serif" fill="#5a5a5a" stroke="#5a5a5a" stroke-width="0.12">key 1</text>
<rect x="333.7" y="331.4" width="5" height="5" fill="#ED7D31"/>
<text transform="translate(341.30,337.00) scale(0.93,1)" font-size="8.4" textLength="19.68" lengthAdjust="spacingAndGlyphs" font-family="Liberation Sans, sans-serif" fill="#5a5a5a" stroke="#5a5a5a" stroke-width="0.12">key 2</text>
<rect x="364.4" y="331.4" width="5" height="5" fill="#A5A5A5"/>
<text transform="translate(372.00,337.00) scale(0.93,1)" font-size="8.4" textLength="19.68" lengthAdjust="spacingAndGlyphs" font-family="Liberation Sans, sans-serif" fill="#5a5a5a" stroke="#5a5a5a" stroke-width="0.12">key 3</text>
<rect x="395.1" y="331.4" width="5" height="5" fill="#FFC000"/>
<text transform="translate(402.70,337.00) scale(0.93,1)" font-size="8.4" textLength="19.68" lengthAdjust="spacingAndGlyphs" font-family="Liberation Sans, sans-serif" fill="#5a5a5a" stroke="#5a5a5a" stroke-width="0.12">key 4</text>
<rect x="425.8" y="331.4" width="5" height="5" fill="#5B9BD5"/>
<text transform="translate(433.40,337.00) scale(0.93,1)" font-size="8.4" textLength="19.68" lengthAdjust="spacingAndGlyphs" font-family="Liberation Sans, sans-serif" fill="#5a5a5a" stroke="#5a5a5a" stroke-width="0.12">key 5</text>
<rect x="456.5" y="331.4" width="5" height="5" fill="#70AD47"/>
<text transform="translate(464.10,337.00) scale(0.93,1)" font-size="8.4" textLength="19.68" lengthAdjust="spacingAndGlyphs" font-family="Liberation Sans, sans-serif" fill="#5a5a5a" stroke="#5a5a5a" stroke-width="0.12">key 6</text>
<rect x="487.2" y="331.4" width="5" height="5" fill="#264478"/>
<text transform="translate(494.80,337.00) scale(0.93,1)" font-size="8.4" textLength="19.68" lengthAdjust="spacingAndGlyphs" font-family="Liberation Sans, sans-serif" fill="#5a5a5a" stroke="#5a5a5a" stroke-width="0.12">key 7</text>
<rect x="517.9" y="331.4" width="5" height="5" fill="#9E480E"/>
<text transform="translate(525.50,337.00) scale(0.93,1)" font-size="8.4" textLength="19.68" lengthAdjust="spacingAndGlyphs" font-family="Liberation Sans, sans-serif" fill="#5a5a5a" stroke="#5a5a5a" stroke-width="0.12">key 8</text>
<text x="419.5" y="360.2" text-anchor="middle" font-family="Liberation Serif, serif" font-size="13" fill="#000">(<tspan font-weight="bold">d</tspan>)</text>
<polyline points="340.8,488.3 411.8,444.1 528.4,456.2" fill="none" stroke="#f6f6f6" stroke-width="0.8"/>
<polyline points="340.4,473.6 411.6,433.3 528.2,444.5" fill="none" stroke="#f6f6f6" stroke-width="0.8"/>
<polyline points="340.0,458.8 411.3,422.6 528.0,432.8" fill="none" stroke="#f6f6f6" stroke-width="0.8"/>
<polyline points="339.5,444.0 411.0,411.8 527.8,421.1" fill="none" stroke="#f6f6f6" stroke-width="0.8"/>
<polyline points="339.1,429.1 410.8,401.1 527.5,409.4" fill="none" stroke="#f6f6f6" stroke-width="0.8"/>
<polyline points="338.7,414.3 410.5,390.3 527.3,397.7" fill="none" stroke="#f6f6f6" stroke-width="0.8"/>
<text transform="translate(331.60,416.30) scale(0.93,1)" font-size="8.4" text-anchor="end" font-family="Liberation Sans, sans-serif" fill="#5a5a5a" stroke="#5a5a5a" stroke-width="0.12">100</text>
<text transform="translate(332.50,431.50) scale(0.93,1)" font-size="8.4" text-anchor="end" font-family="Liberation Sans, sans-serif" fill="#5a5a5a" stroke="#5a5a5a" stroke-width="0.12">80</text>
<text transform="translate(333.10,446.50) scale(0.93,1)" font-size="8.4" text-anchor="end" font-family="Liberation Sans, sans-serif" fill="#5a5a5a" stroke="#5a5a5a" stroke-width="0.12">60</text>
<text transform="translate(334.00,461.50) scale(0.93,1)" font-size="8.4" text-anchor="end" font-family="Liberation Sans, sans-serif" fill="#5a5a5a" stroke="#5a5a5a" stroke-width="0.12">40</text>
<text transform="translate(334.50,476.00) scale(0.93,1)" font-size="8.4" text-anchor="end" font-family="Liberation Sans, sans-serif" fill="#5a5a5a" stroke="#5a5a5a" stroke-width="0.12">20</text>
<text transform="translate(335.60,490.30) scale(0.93,1)" font-size="8.4" text-anchor="end" font-family="Liberation Sans, sans-serif" fill="#5a5a5a" stroke="#5a5a5a" stroke-width="0.12">0</text>
<polygon points="414.62,431.88 429.15,394.95 431.37,394.07 416.99,430.53" fill="#612c08" stroke="#612c08" stroke-width="0.3" stroke-linejoin="round"/>
<polygon points="429.15,394.95 446.13,446.02 448.14,444.46 431.37,394.07" fill="#8e400c" stroke="#8e400c" stroke-width="0.3" stroke-linejoin="round"/>
<polygon points="446.13,446.02 462.37,450.48 464.19,448.84 448.14,444.46" fill="#843c0b" stroke="#843c0b" stroke-width="0.3" stroke-linejoin="round"/>
<polygon points="462.37,450.48 478.95,453.14 480.57,451.44 464.19,448.84" fill="#843c0b" stroke="#843c0b" stroke-width="0.3" stroke-linejoin="round"/>
<polygon points="478.95,453.14 495.92,455.33 497.32,453.59 480.57,451.44" fill="#843c0b" stroke="#843c0b" stroke-width="0.3" stroke-linejoin="round"/>
<polygon points="495.92,455.33 513.30,457.41 514.48,455.61 497.32,453.59" fill="#843c0b" stroke="#843c0b" stroke-width="0.3" stroke-linejoin="round"/>
<polygon points="408.05,435.59 423.03,397.86 425.41,396.91 410.60,434.15" fill="#172a4a" stroke="#172a4a" stroke-width="0.3" stroke-linejoin="round"/>
<polygon points="423.03,397.86 440.56,450.34 442.72,448.67 425.41,396.91" fill="#223d6c" stroke="#223d6c" stroke-width="0.3" stroke-linejoin="round"/>
<polygon points="440.56,450.34 457.32,455.02 459.28,453.26 442.72,448.67" fill="#1f3964" stroke="#1f3964" stroke-width="0.3" stroke-linejoin="round"/>
<polygon points="457.32,455.02 474.46,457.83 476.20,456.01 459.28,453.26" fill="#1f3964" stroke="#1f3964" stroke-width="0.3" stroke-linejoin="round"/>
<polygon points="474.46,457.83 492.01,460.17 493.53,458.29 476.20,456.01" fill="#1f3964" stroke="#1f3964" stroke-width="0.3" stroke-linejoin="round"/>
<polygon points="492.01,460.17 510.01,462.38 511.29,460.45 493.53,458.29" fill="#1f3964" stroke="#1f3964" stroke-width="0.3" stroke-linejoin="round"/>
<polygon points="401.01,439.59 416.43,400.02 418.99,399.00 403.74,438.03" fill="#456b2c" stroke="#456b2c" stroke-width="0.3" stroke-linejoin="round"/>
<polygon points="416.43,400.02 434.56,454.99 436.89,453.18 418.99,399.00" fill="#649b3f" stroke="#649b3f" stroke-width="0.3" stroke-linejoin="round"/>
<polygon points="434.56,454.99 451.90,459.91 454.01,458.01 436.89,453.18" fill="#5e913b" stroke="#5e913b" stroke-width="0.3" stroke-linejoin="round"/>
<polygon points="451.90,459.91 469.63,462.89 471.51,460.92 454.01,458.01" fill="#5e913b" stroke="#5e913b" stroke-width="0.3" stroke-linejoin="round"/>
<polygon points="469.63,462.89 487.81,465.38 489.44,463.35 471.51,460.92" fill="#5e913b" stroke="#5e913b" stroke-width="0.3" stroke-linejoin="round"/>
<polygon points="487.81,465.38 506.46,467.75 507.84,465.66 489.44,463.35" fill="#5e913b" stroke="#5e913b" stroke-width="0.3" stroke-linejoin="round"/>
<polygon points="393.42,443.88 409.33,402.84 412.10,401.74 396.37,442.21" fill="#386084" stroke="#386084" stroke-width="0.3" stroke-linejoin="round"/>
<polygon points="409.33,402.84 428.10,460.00 430.62,458.05 412.10,401.74" fill="#518bbf" stroke="#518bbf" stroke-width="0.3" stroke-linejoin="round"/>
<polygon points="428.10,460.00 446.04,465.18 448.32,463.13 430.62,458.05" fill="#4c82b2" stroke="#4c82b2" stroke-width="0.3" stroke-linejoin="round"/>
<polygon points="446.04,465.18 464.40,468.35 466.44,466.22 448.32,463.13" fill="#4c82b2" stroke="#4c82b2" stroke-width="0.3" stroke-linejoin="round"/>
<polygon points="464.40,468.35 483.25,471.02 485.03,468.82 466.44,466.22" fill="#4c82b2" stroke="#4c82b2" stroke-width="0.3" stroke-linejoin="round"/>
<polygon points="483.25,471.02 502.62,473.56 504.11,471.30 485.03,468.82" fill="#4c82b2" stroke="#4c82b2" stroke-width="0.3" stroke-linejoin="round"/>
<polygon points="385.23,448.52 401.64,405.18 404.63,404.00 388.42,446.72" fill="#9e7700" stroke="#9e7700" stroke-width="0.3" stroke-linejoin="round"/>
<polygon points="401.64,405.18 421.11,465.42 423.83,463.31 404.63,404.00" fill="#e5ac00" stroke="#e5ac00" stroke-width="0.3" stroke-linejoin="round"/>
<polygon points="421.11,465.42 439.70,470.89 442.17,468.66 423.83,463.31" fill="#d6a100" stroke="#d6a100" stroke-width="0.3" stroke-linejoin="round"/>
<polygon points="439.70,470.89 458.74,474.27 460.95,471.97 442.17,468.66" fill="#d6a100" stroke="#d6a100" stroke-width="0.3" stroke-linejoin="round"/>
<polygon points="458.74,474.27 478.32,477.14 480.24,474.75 460.95,471.97" fill="#d6a100" stroke="#d6a100" stroke-width="0.3" stroke-linejoin="round"/>
<polygon points="478.32,477.14 498.44,479.88 500.07,477.42 480.24,474.75" fill="#d6a100" stroke="#d6a100" stroke-width="0.3" stroke-linejoin="round"/>
<polygon points="376.37,453.48 393.34,408.87 396.58,407.58 379.82,451.52" fill="#666666" stroke="#666666" stroke-width="0.3" stroke-linejoin="round"/>
<polygon points="393.34,408.87 413.53,471.31 416.48,469.01 396.58,407.58" fill="#949494" stroke="#949494" stroke-width="0.3" stroke-linejoin="round"/>
<polygon points="413.53,471.31 432.81,477.09 435.49,474.67 416.48,469.01" fill="#8a8a8a" stroke="#8a8a8a" stroke-width="0.3" stroke-linejoin="round"/>
<polygon points="432.81,477.09 452.59,480.71 454.99,478.20 435.49,474.67" fill="#8a8a8a" stroke="#8a8a8a" stroke-width="0.3" stroke-linejoin="round"/>
<polygon points="452.59,480.71 472.94,483.80 475.04,481.20 454.99,478.20" fill="#8a8a8a" stroke="#8a8a8a" stroke-width="0.3" stroke-linejoin="round"/>
<polygon points="472.94,483.80 493.89,486.77 495.67,484.08 475.04,481.20" fill="#8a8a8a" stroke="#8a8a8a" stroke-width="0.3" stroke-linejoin="round"/>
<polygon points="366.75,459.49 384.30,413.02 387.83,411.61 370.50,457.36" fill="#924d1e" stroke="#924d1e" stroke-width="0.3" stroke-linejoin="round"/>
<polygon points="384.30,413.02 405.27,477.71 408.49,475.21 387.83,411.61" fill="#d5702c" stroke="#d5702c" stroke-width="0.3" stroke-linejoin="round"/>
<polygon points="405.27,477.71 425.29,483.85 428.23,481.21 408.49,475.21" fill="#c76929" stroke="#c76929" stroke-width="0.3" stroke-linejoin="round"/>
<polygon points="425.29,483.85 445.87,487.74 448.49,485.00 428.23,481.21" fill="#c76929" stroke="#c76929" stroke-width="0.3" stroke-linejoin="round"/>
<polygon points="445.87,487.74 467.06,491.08 469.36,488.24 448.49,485.00" fill="#c76929" stroke="#c76929" stroke-width="0.3" stroke-linejoin="round"/>
<polygon points="467.06,491.08 488.91,494.30 490.86,491.36 469.36,488.24" fill="#c76929" stroke="#c76929" stroke-width="0.3" stroke-linejoin="round"/>
<polygon points="356.24,465.10 374.43,417.18 378.29,415.64 360.34,462.77" fill="#2a4679" stroke="#2a4679" stroke-width="0.3" stroke-linejoin="round"/>
<polygon points="374.43,417.18 396.24,484.71 399.77,481.98 378.29,415.64" fill="#3d66b0" stroke="#3d66b0" stroke-width="0.3" stroke-linejoin="round"/>
<polygon points="396.24,484.71 417.07,491.25 420.29,488.36 399.77,481.98" fill="#395fa4" stroke="#395fa4" stroke-width="0.3" stroke-linejoin="round"/>
<polygon points="417.07,491.25 438.50,495.45 441.38,492.43 420.29,488.36" fill="#395fa4" stroke="#395fa4" stroke-width="0.3" stroke-linejoin="round"/>
<polygon points="438.50,495.45 460.61,499.08 463.13,495.95 441.38,492.43" fill="#395fa4" stroke="#395fa4" stroke-width="0.3" stroke-linejoin="round"/>
<polygon points="460.61,499.08 483.44,502.59 485.58,499.34 463.13,495.95" fill="#395fa4" stroke="#395fa4" stroke-width="0.3" stroke-linejoin="round"/>
<rect x="303.0" y="518.5" width="5" height="5" fill="#4472C4"/>
<text transform="translate(310.60,524.10) scale(0.93,1)" font-size="8.4" textLength="19.68" lengthAdjust="spacingAndGlyphs" font-family="Liberation Sans, sans-serif" fill="#5a5a5a" stroke="#5a5a5a" stroke-width="0.12">key 1</text>
<rect x="333.7" y="518.5" width="5" height="5" fill="#ED7D31"/>
<text transform="translate(341.30,524.10) scale(0.93,1)" font-size="8.4" textLength="19.68" lengthAdjust="spacingAndGlyphs" font-family="Liberation Sans, sans-serif" fill="#5a5a5a" stroke="#5a5a5a" stroke-width="0.12">key 2</text>
<rect x="364.4" y="518.5" width="5" height="5" fill="#A5A5A5"/>
<text transform="translate(372.00,524.10) scale(0.93,1)" font-size="8.4" textLength="19.68" lengthAdjust="spacingAndGlyphs" font-family="Liberation Sans, sans-serif" fill="#5a5a5a" stroke="#5a5a5a" stroke-width="0.12">key 3</text>
<rect x="395.1" y="518.5" width="5" height="5" fill="#FFC000"/>
<text transform="translate(402.70,524.10) scale(0.93,1)" font-size="8.4" textLength="19.68" lengthAdjust="spacingAndGlyphs" font-family="Liberation Sans, sans-serif" fill="#5a5a5a" stroke="#5a5a5a" stroke-width="0.12">key 4</text>
<rect x="425.8" y="518.5" width="5" height="5" fill="#5B9BD5"/>
<text transform="translate(433.40,524.10) scale(0.93,1)" font-size="8.4" textLength="19.68" lengthAdjust="spacingAndGlyphs" font-family="Liberation Sans, sans-serif" fill="#5a5a5a" stroke="#5a5a5a" stroke-width="0.12">key 5</text>
<rect x="456.5" y="518.5" width="5" height="5" fill="#70AD47"/>
<text transform="translate(464.10,524.10) scale(0.93,1)" font-size="8.4" textLength="19.68" lengthAdjust="spacingAndGlyphs" font-family="Liberation Sans, sans-serif" fill="#5a5a5a" stroke="#5a5a5a" stroke-width="0.12">key 6</text>
<rect x="487.2" y="518.5" width="5" height="5" fill="#264478"/>
<text transform="translate(494.80,524.10) scale(0.93,1)" font-size="8.4" textLength="19.68" lengthAdjust="spacingAndGlyphs" font-family="Liberation Sans, sans-serif" fill="#5a5a5a" stroke="#5a5a5a" stroke-width="0.12">key 7</text>
<rect x="517.9" y="518.5" width="5" height="5" fill="#9E480E"/>
<text transform="translate(525.50,524.10) scale(0.93,1)" font-size="8.4" textLength="19.68" lengthAdjust="spacingAndGlyphs" font-family="Liberation Sans, sans-serif" fill="#5a5a5a" stroke="#5a5a5a" stroke-width="0.12">key 8</text>
<text x="419.5" y="547" text-anchor="middle" font-family="Liberation Serif, serif" font-size="13" fill="#000">(<tspan font-weight="bold">f</tspan>)</text>
</svg>
</body></html>
